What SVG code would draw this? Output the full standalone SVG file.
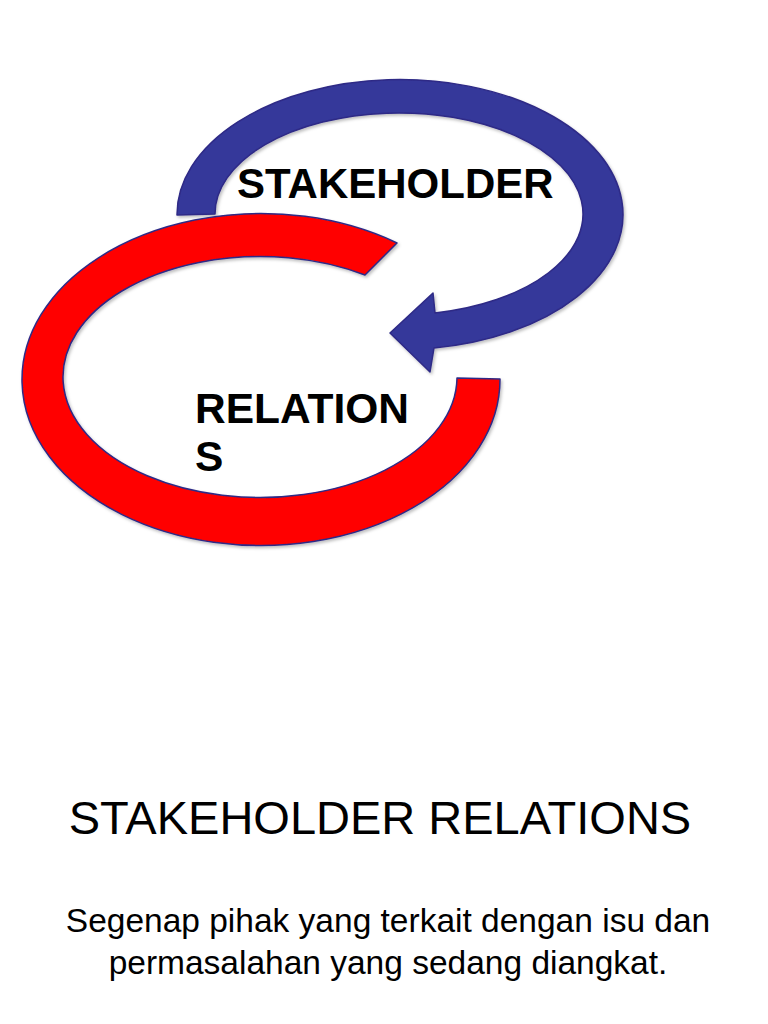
<svg xmlns="http://www.w3.org/2000/svg" width="768" height="1024" viewBox="0 0 768 1024">
  <style>
    .shape { stroke: #2e2a86; stroke-width: 1.5; stroke-linejoin: round; }
    .blue { fill: #34379a; }
    .red { fill: #ff0000; }
    .lbl { font-family: "Liberation Sans", Arial, sans-serif; font-weight: bold; fill: #000; }
    .cap { font-family: "Liberation Sans", Arial, sans-serif; fill: #000; }
  </style>
  <defs>
    <filter id="sh" x="-10%" y="-10%" width="120%" height="120%">
      <feDropShadow dx="1.5" dy="2" stdDeviation="1.5" flood-color="#000" flood-opacity="0.25"/>
    </filter>
  </defs>
  <rect width="768" height="1024" fill="#fff"/>
  <g id="connectors">
    <g id="blue-arrow" filter="url(#sh)">
      <path class="shape blue" d="M177,215 A223,135 0 1 1 434,348 L430,372 L390,333 L433,293 L435,313 A184,101 0 1 0 215,214 Z"/>
    </g>
    <g id="red-ring" filter="url(#sh)">
      <path class="shape red" d="M397,243 A239,166 0 1 0 500,379 L457,378 A197,120.5 0 1 1 365,275 Z"/>
    </g>
  </g>
  <g id="node-stakeholder">
    <text class="lbl" x="237" y="198" font-size="42">STAKEHOLDER</text>
  </g>
  <g id="node-relations">
    <text class="lbl" x="195" y="423" font-size="42.5">RELATION</text>
    <text class="lbl" x="195" y="471" font-size="42.5">S</text>
  </g>
  <g id="title">
    <text class="cap" x="380" y="834" font-size="47" text-anchor="middle">STAKEHOLDER RELATIONS</text>
  </g>
  <g id="description">
    <text class="cap" x="388" y="932" font-size="33.5" text-anchor="middle">Segenap pihak yang terkait dengan isu dan</text>
    <text class="cap" x="388" y="974" font-size="33.5" text-anchor="middle">permasalahan yang sedang diangkat.</text>
  </g>
</svg>
